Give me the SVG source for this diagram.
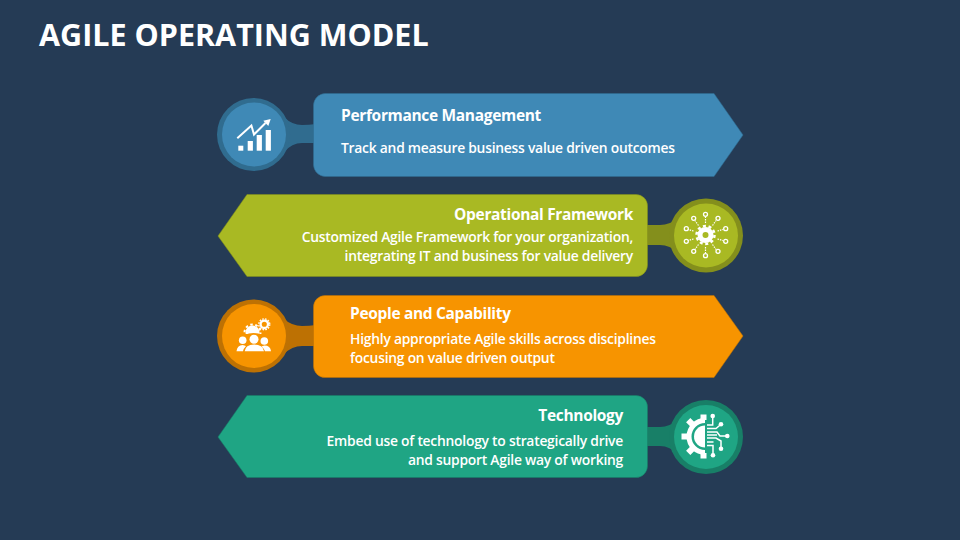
<svg xmlns="http://www.w3.org/2000/svg" width="960" height="540" viewBox="0 0 960 540">
<style>
text{font-family:"Open Sans","Noto Sans","Liberation Sans",sans-serif;fill:#fff}
.t{font-size:15.5px;font-weight:700;letter-spacing:-.33px}
.d{font-size:13.85px;font-weight:600;letter-spacing:-.24px}
.e{text-anchor:end}
.w{fill:#fff}
.s{fill:none;stroke:#fff;stroke-width:1.300}
.b{stroke-width:1;stroke-opacity:.55}
</style>
<rect width="960" height="540" fill="#253B55"/>
<text x="39" y="46" font-size="30.500" font-weight="700">AGILE OPERATING MODEL</text>
<g id="connectors">
<path d="M284 117Q292 125 302 125Q309 125 316 124V143Q309 143 302 143Q292 143 284 152Z" fill="#306C8F"/>
<path d="M678 218Q670 225 660 225Q652 225 645 225V245Q652 245 660 245Q670 245 678 253Z" fill="#848F1C"/>
<path d="M284 319Q292 326 302 326Q309 326 316 325V346Q309 346 302 346Q292 346 284 354Z" fill="#BD7103"/>
<path d="M678 419Q670 427 660 427Q652 427 645 427V446Q652 446 660 446Q670 446 678 455Z" fill="#187F67"/>
</g>
<g id="performance-management">
<path class="b" d="M325 93.500H714L743 135L714 176.500H325A12 12 0 0 1 313.500 165V105A12 12 0 0 1 325 93.500Z" fill="#3F89B6" stroke="#306C8F"/>
<circle cx="253.500" cy="134.500" r="36.500" fill="#306C8F"/>
<circle cx="254" cy="134.500" r="32" fill="#3F89B6"/>
<g id="icon-chart">
<rect class="w" x="238.300" y="145.700" width="5" height="5"/>
<rect class="w" x="247.700" y="141" width="5.200" height="9.700"/>
<rect class="w" x="256.700" y="135" width="5.200" height="15.700"/>
<rect class="w" x="265.700" y="130" width="5.200" height="20.700"/>
<path d="M237.300 138.300L251.400 125.500L254 134.500L265.500 123" fill="none" stroke="#fff" stroke-width="2"/>
<path class="w" d="M270.700 119L263.300 120.700L268.300 126Z"/>
</g>
<text class="t" x="341" y="120.500">Performance Management</text>
<text class="d" x="341" y="153">Track and measure business value driven outcomes</text>
</g>
<g id="operational-framework">
<path class="b" d="M247 194.500H636A11.500 11.500 0 0 1 647.500 206V265A11.500 11.500 0 0 1 636 276.500H247L218 236Z" fill="#A9B923" stroke="#848F1C"/>
<circle cx="706" cy="235.500" r="37" fill="#848F1C"/>
<circle cx="706" cy="235.500" r="32" fill="#A9B923"/>
<g id="icon-network">
<circle cx="705.500" cy="235" r="5.500" fill="none" stroke="#fff" stroke-width="5"/>
<circle cx="705.500" cy="235" r="9" fill="none" stroke="#fff" stroke-width="2.500" stroke-dasharray="3 2.650"/>
<path d="M705.500 223V217M712.500 225.500L716 220.600M717.500 231L723 229.400M717.500 239L723 240.600M712.500 244.500L716 249.400M705.500 247V253M698.500 244.500L695 249.400M693.500 239L688 240.600M693.500 231L688 229.400M698.500 225.500L695 220.600" stroke="#fff" stroke-width="1.200" stroke-dasharray="1.500 1" fill="none"/>
<g class="s"><circle cx="705.500" cy="214.300" r="2"/><circle cx="718" cy="218.300" r="2"/><circle cx="725.700" cy="228.700" r="2"/><circle cx="725.700" cy="241.300" r="2"/><circle cx="718" cy="251.300" r="2"/><circle cx="705.500" cy="255.700" r="2"/><circle cx="693.700" cy="251.300" r="2"/><circle cx="686.300" cy="241.300" r="2"/><circle cx="686.300" cy="228.700" r="2"/><circle cx="693.700" cy="218.300" r="2"/></g>
</g>
<text class="t e" x="633" y="219.500">Operational Framework</text>
<text class="d e" x="633" y="242">Customized Agile Framework for your organization,</text>
<text class="d e" x="633" y="261">integrating IT and business for value delivery</text>
</g>
<g id="people-and-capability">
<path class="b" d="M325 295.500H714L743 336L714 377.500H325A11.500 11.500 0 0 1 313.500 366V307A11.500 11.500 0 0 1 325 295.500Z" fill="#F79400" stroke="#BD7103"/>
<circle cx="253.500" cy="336" r="36.500" fill="#BD7103"/>
<circle cx="254" cy="336" r="32" fill="#F79400"/>
<g id="icon-people">
<circle cx="264.300" cy="324.300" r="3.700" fill="none" stroke="#fff" stroke-width="2.300"/>
<circle cx="264.300" cy="324.300" r="5.500" fill="none" stroke="#fff" stroke-width="1.300" stroke-dasharray="1.700 1.180"/>
<circle class="w" cx="252.500" cy="332.500" r="7"/>
<circle cx="252.500" cy="332.500" r="8" fill="none" stroke="#fff" stroke-width="2" stroke-dasharray="2.500 2.530"/>
<ellipse cx="253.500" cy="340" rx="12" ry="7" fill="#F79400"/>
<rect x="242" y="334" width="22" height="8" fill="#F79400"/>
<circle class="w" cx="242.700" cy="340.300" r="3.800"/><circle class="w" cx="264.300" cy="341" r="3.800"/><circle class="w" cx="254" cy="339.300" r="4.500"/>
<path class="w" d="M236.500 351.300Q237 345.500 242.700 345L246 346Q243.500 348.500 243 351.300Z"/>
<path class="w" d="M271 351.300Q270.500 345.500 264.300 345.500L261.500 346.500Q264 348.500 265 351.300Z"/>
<path class="w" d="M244.700 351.300Q245.500 344.500 254 344.500Q263 344.500 264 351.300Z"/>
</g>
<text class="t" x="350" y="318.500">People and Capability</text>
<text class="d" x="350" y="344">Highly appropriate Agile skills across disciplines</text>
<text class="d" x="350" y="363">focusing on value driven output</text>
</g>
<g id="technology">
<path class="b" d="M247 395.500H636A11.500 11.500 0 0 1 647.500 407V466A11.500 11.500 0 0 1 636 477.500H247L218 437Z" fill="#1FA584" stroke="#187F67"/>
<circle cx="706" cy="437" r="37" fill="#187F67"/>
<circle cx="706" cy="437" r="32" fill="#1FA584"/>
<g id="icon-circuit">
<path class="w" d="M705 425.500A11 11 0 0 0 705 447.500Z"/>
<path d="M705 420.500A16 16 0 0 0 705 452.500" fill="none" stroke="#fff" stroke-width="5"/>
<path d="M681.500 436.500H688.500M688.200 420.200L693.200 425.200M688.200 452.800L693.200 447.800M703.500 414.500V420M703.500 458.500V453" fill="none" stroke="#fff" stroke-width="6"/>
<g fill="none" stroke="#fff" stroke-width="1.500">
<path d="M707 425H712.700V416M707 428.500H716L721 424.300M707 432H717L720 436H727.300M707 435H717M707 438H716L721 441V448.700M707 442H713.500M707 445.500H713V455.300"/>
</g>
<g class="w"><circle cx="712.700" cy="416" r="2.300"/><circle cx="721" cy="424.300" r="2.300"/><circle cx="727.300" cy="436" r="2.300"/><circle cx="721" cy="448.700" r="2.300"/><circle cx="713" cy="455.300" r="2.300"/></g>
</g>
<text class="t e" x="623" y="421">Technology</text>
<text class="d e" x="623" y="446">Embed use of technology to strategically drive</text>
<text class="d e" x="623" y="465">and support Agile way of working</text>
</g>
</svg>
